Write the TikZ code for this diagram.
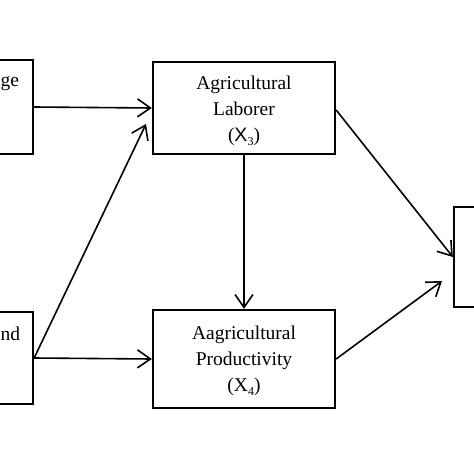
\documentclass[tikz,border=0pt]{standalone}
\usepackage{fontspec}
\setmainfont{Liberation Serif}
\setsansfont{Liberation Sans}
\usetikzlibrary{arrows.meta}
\newcommand{\mysub}[1]{\raisebox{-4pt}{\fontsize{12}{12}\selectfont #1}}
\begin{document}
\begin{tikzpicture}[x=1pt,y=-1pt,
  box/.style={draw,line width=2.3pt,rectangle,inner sep=0pt,align=center,
    font=\fontsize{19.5}{26}\selectfont},
  lbl/.style={inner sep=0pt,font=\fontsize{19.5}{26}\selectfont},
  arr/.style={line width=1.6pt,-{Straight Barb[length=13pt,width=18pt,line width=1.6pt]}},
  ln/.style={line width=1.6pt}]
\useasboundingbox (0,0) rectangle (474,474);
\clip (0,0) rectangle (474,474);
\fill[white] (0,0) rectangle (474,474);
% partially visible boxes
\node[box,minimum width=80pt,minimum height=94pt] (ltop) at (-7,107) {};
\node[box,minimum width=80pt,minimum height=92pt] (lbot) at (-7,358) {};
\node[box,minimum width=80pt,minimum height=100pt] (right) at (494,257) {};
\node[lbl,anchor=west] (ltoptext) at (0.5,84) {ge};
\node[lbl,anchor=west] (lbottext) at (0.5,334) {nd};
% main boxes
\node[box,minimum width=182pt,minimum height=92pt] (lab) at (244,108) {};
\node[box,minimum width=182pt,minimum height=98pt] (prod) at (244,359) {};
\node[lbl,align=center] (labtext) at (244,111)
  {Agricultural\\Laborer\\({\sffamily X}\mysub{3})};
\node[lbl,align=center] (prodtext) at (244,361)
  {Aagricultural\\Productivity\\(X\mysub{4})};
% connectors
\coordinate (diagend) at (146,124);
\coordinate (prodend) at (442,281);
\draw[arr] (ltop.east) -- (lab.west);
\draw[arr] (lbot.east) -- (prod.west);
\draw[arr] (lbot.east) -- (diagend);
\draw[arr] (lab.south) -- (prod.north);
\draw[arr] (lab.east) ++(0,2) -- (right.west);
\draw[arr] (prod.east) -- (prodend);
\end{tikzpicture}
\end{document}
